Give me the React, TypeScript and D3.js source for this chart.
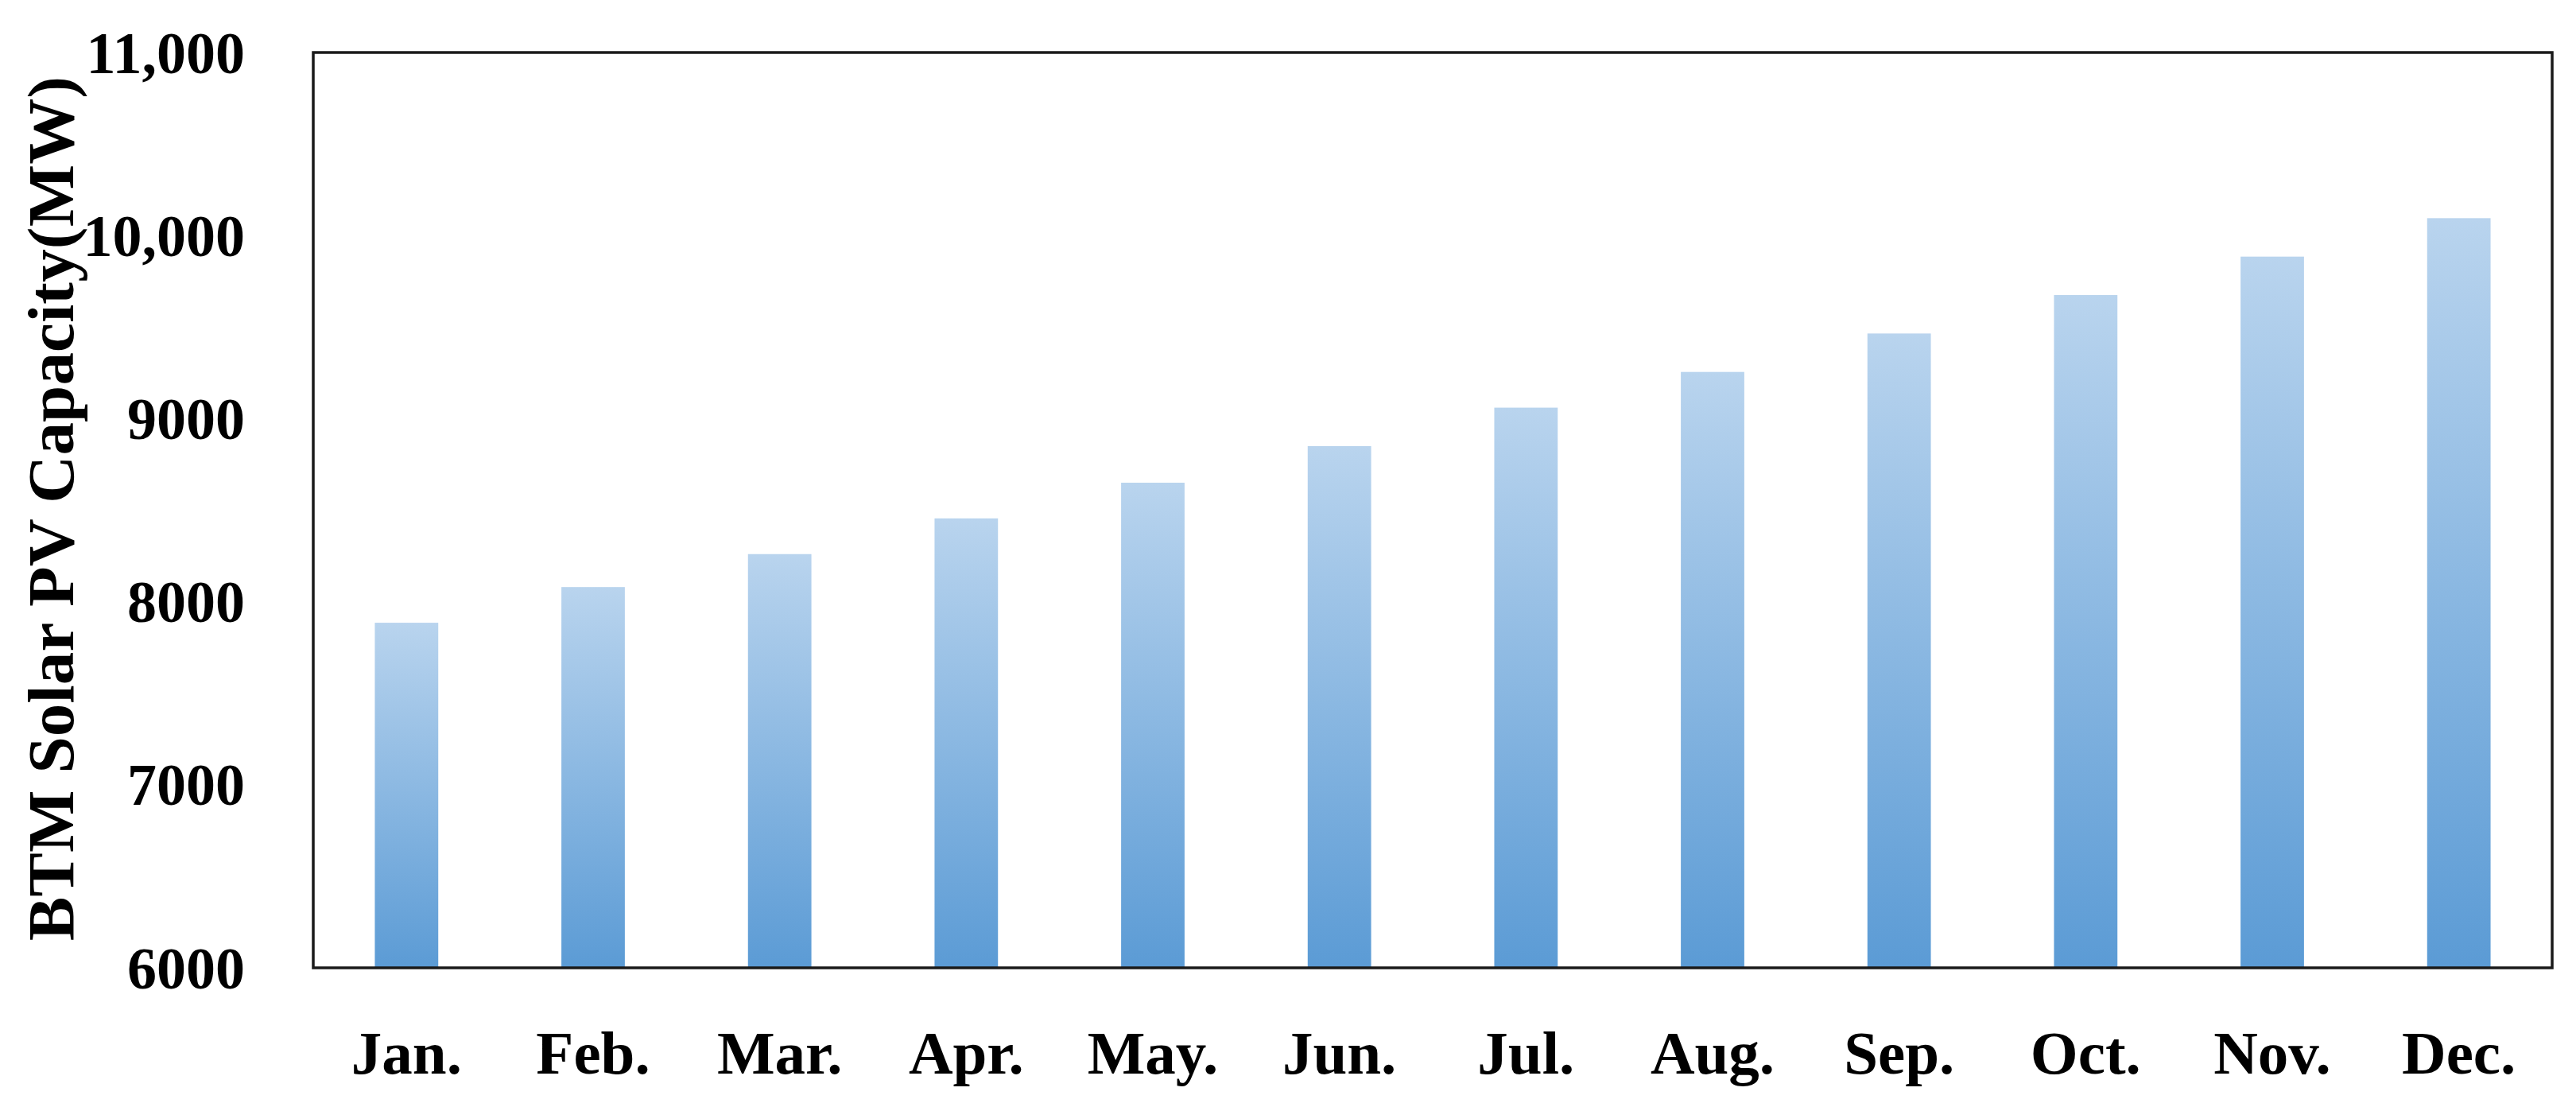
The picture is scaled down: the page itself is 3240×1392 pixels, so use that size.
import * as React from 'react';
import * as d3 from 'd3';

const months = ['Jan.', 'Feb.', 'Mar.', 'Apr.', 'May.', 'Jun.', 'Jul.', 'Aug.', 'Sep.', 'Oct.', 'Nov.', 'Dec.'];
const capacity = [7885, 8080, 8260, 8455, 8650, 8850, 9060, 9255, 9465, 9675, 9885, 10095];
const yTicks = [6000, 7000, 8000, 9000, 10000, 11000];
const yTitle = 'BTM Solar PV Capacity(MW)';

const App = () => {
    const ref = React.useRef<SVGSVGElement>(null);

    React.useEffect(() => {
        const config = {
            width: 3240,
            height: 1392,
            margin: { top: 66, right: 30, bottom: 175, left: 394 },
            font: '"Liberation Serif", "Times New Roman", serif'
        };
        const svg = d3.select(ref.current);
        svg.selectAll('*').remove();

        const x = d3.scaleBand()
            .domain(months)
            .range([config.margin.left, config.width - config.margin.right])
            .paddingInner(0.66)
            .paddingOuter(0.33);
        const y = d3.scaleLinear()
            .domain([6000, 11000])
            .range([config.height - config.margin.bottom, config.margin.top]);

        let grad = svg.append('defs')
            .append('linearGradient')
            .attr('id', 'barFill')
            .attr('x1', 0).attr('y1', 0)
            .attr('x2', 0).attr('y2', 1);
        grad.append('stop').attr('offset', '0%').attr('stop-color', '#b9d4ee');
        grad.append('stop').attr('offset', '100%').attr('stop-color', '#5b9bd5');

        // bars
        svg.append('g')
            .selectAll('rect')
            .data(capacity)
            .enter()
            .append('rect')
            .attr('x', (d, i) => x(months[i]))
            .attr('y', d => y(d))
            .attr('width', x.bandwidth())
            .attr('height', d => y(6000) - y(d))
            .style('fill', 'url(#barFill)');

        // plot frame
        svg.append('rect')
            .attr('x', x.range()[0])
            .attr('y', y(11000))
            .attr('width', x.range()[1] - x.range()[0])
            .attr('height', y(6000) - y(11000))
            .style('fill', 'none')
            .style('stroke', '#1a1a1a')
            .style('stroke-width', 3.5);

        // y tick labels
        const fmt = (d: number) => d >= 10000 ? d3.format(',')(d) : String(d);
        const yAxis = d3.axisLeft(y).tickValues(yTicks).tickSize(0).tickPadding(86).tickFormat(fmt as any);
        const gy = svg.append('g')
            .attr('transform', 'translate(' + config.margin.left + ',0)')
            .call(yAxis);
        gy.select('.domain').remove();
        gy.selectAll('text')
            .attr('dy', '0.34em')
            .style('font-family', config.font)
            .style('font-weight', 'bold')
            .style('font-size', '74px')
            .style('fill', '#000');

        // x labels
        const xAxis = d3.axisBottom(x).tickSize(0).tickPadding(0);
        const gx = svg.append('g')
            .attr('transform', 'translate(0,' + y(6000) + ')')
            .call(xAxis);
        gx.select('.domain').remove();
        gx.selectAll('text')
            .attr('y', 133)
            .attr('dy', 0)
            .style('font-family', config.font)
            .style('font-weight', 'bold')
            .style('font-size', '77px')
            .style('fill', '#000');

        // y title
        svg.append('text')
            .attr('transform', 'translate(92,' + ((96 + 1183) / 2) + ') rotate(-90)')
            .attr('text-anchor', 'middle')
            .attr('textLength', 1087)
            .attr('lengthAdjust', 'spacing')
            .style('font-family', config.font)
            .style('font-weight', 'bold')
            .style('font-size', '83px')
            .style('fill', '#000')
            .text(yTitle);
    }, []);

    return (
        <svg ref={ref} width={3240} height={1392}
            style={{ position: 'absolute', left: 0, top: 0, background: '#fff' }} />
    );
};

export default App;
